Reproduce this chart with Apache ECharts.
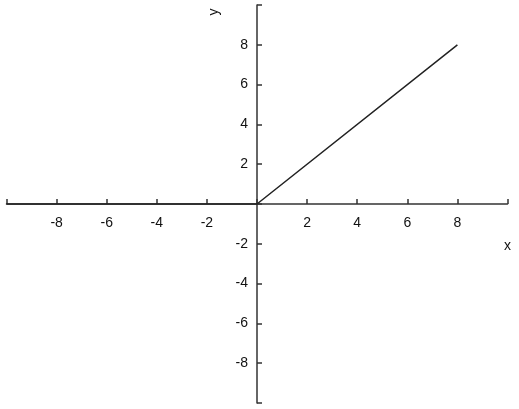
<!DOCTYPE html>
<html><head><meta charset="utf-8">
<script src="https://cdn.jsdelivr.net/npm/echarts@6/dist/echarts.min.js"></script>
<style>html,body{margin:0;padding:0;background:#fff}#c{width:519px;height:409px}</style>
</head><body><div id="c"></div>
<script>
const xValues = [-10, 0, 8];
const yValues = [0, 0, 8];
const tickLabels = ['-8','-6','-4','-2','2','4','6','8'];
const axisMin = -10, axisMax = 10, tickStep = 2;

const chart = echarts.init(document.getElementById('c'), null, {renderer:'canvas'});
const fmt = v => tickLabels.includes(String(v)) ? String(v) : '';
const axColor = '#333';
const font = {fontFamily:'Liberation Sans', fontSize:14, color:'#111'};
function build(xOff, yOff){
  return {
  animation:false,
  grid:{left:6.5, right:11.5, top:5, bottom:6, containLabel:false, outerBoundsMode:'none'},
  xAxis:{type:'value', min:axisMin, max:axisMax, interval:tickStep, position:'bottom', offset:xOff,
    name:'x', nameLocation:'end', nameGap:0,
    nameTextStyle:Object.assign({align:'center', verticalAlign:'top', padding:[35,0,0,0]}, font),
    axisLine:{onZero:false, lineStyle:{color:axColor, width:1.5}},
    axisTick:{inside:true, length:5, lineStyle:{color:axColor, width:1.5}},
    axisLabel:Object.assign({formatter:fmt, margin:12, hideOverlap:false}, font),
    splitLine:{show:false}},
  yAxis:{type:'value', min:axisMin, max:axisMax, interval:tickStep, position:'left', offset:yOff,
    name:'y', nameLocation:'end', nameGap:-7, nameRotate:90,
    nameTextStyle:Object.assign({align:'center', verticalAlign:'bottom', padding:[0,0,36,0]}, font),
    axisLine:{onZero:false, lineStyle:{color:axColor, width:1.5}},
    axisTick:{inside:true, length:5, lineStyle:{color:axColor, width:1.5}},
    axisLabel:Object.assign({formatter:fmt, margin:9, hideOverlap:false}, font),
    splitLine:{show:false}},
  series:[{type:'line', data:xValues.map((x,i)=>[x,yValues[i]]), showSymbol:false,
    lineStyle:{color:'#222', width:1.5}}]
  };
}
chart.setOption(build(0,0));
// move the axes onto the zero lines using the library's own scales
const zero = chart.convertToPixel({gridIndex:0}, [0, 0]);
const corner = chart.convertToPixel({gridIndex:0}, [axisMin, axisMin]);
chart.setOption(build(zero[1] - corner[1], corner[0] - zero[0]));
</script></body></html>
